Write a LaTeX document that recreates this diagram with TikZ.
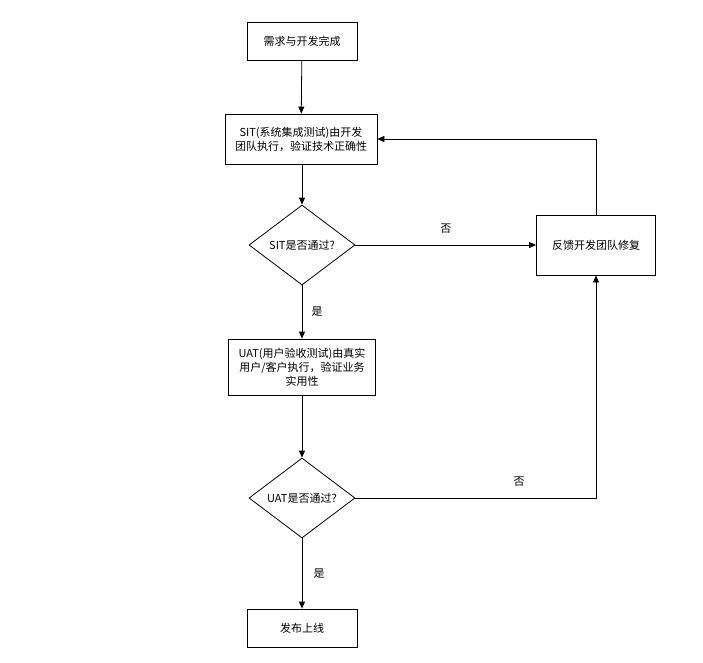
\documentclass[tikz,border=0pt]{standalone}
\usepackage{fontspec}
\newfontfamily\cjk{Noto Sans CJK SC}
\usetikzlibrary{shapes.geometric, positioning, arrows.meta}

\begin{document}
\begin{tikzpicture}[x=1pt, y=-1pt,
    box/.style={draw, thick, fill=white, align=center, font=\cjk\fontsize{11}{14}\selectfont, inner sep=2pt},
    check/.style={draw, thick, diamond, aspect=1.3, inner sep=0pt, minimum width=106pt, minimum height=80pt, font=\cjk\fontsize{11}{14}\selectfont},
    lbl/.style={font=\cjk\fontsize{11}{14}\selectfont},
    flow/.style={-{Triangle[length=7pt, width=6pt]}, thick}]
    \useasboundingbox (0,0) rectangle (703,662);
    % Flow nodes
    \node[box, minimum width=110pt, minimum height=38pt] (start) at (302,41) {需求与开发完成};
    \node[box, minimum width=152pt, minimum height=50pt] (sit) at (301,139) {SIT(系统集成测试)由开发\\团队执行，验证技术正确性};
    \node[check] (sitok) at (302,245) {SIT是否通过?};
    \node[box, minimum width=119pt, minimum height=60pt] (fix) at (596,245) {反馈开发团队修复};
    \node[box, minimum width=147pt, minimum height=56pt] (uat) at (302,367) {UAT(用户验收测试)由真实\\用户/客户执行，验证业务\\实用性};
    \node[check] (uatok) at (302,498) {UAT是否通过?};
    \node[box, minimum width=110pt, minimum height=38pt] (release) at (302,628) {发布上线};
    % Connectors
    \draw[flow] (start) -- (sit);
    \draw[flow] (sit.south -| sitok) -- (sitok);
    \draw[flow] (sitok) -- node[lbl, right=6pt] {是} (uat.north -| sitok);
    \draw[flow] (sitok) -- node[lbl, above=8pt] {否} (fix);
    \draw[flow] (fix) |- (sit);
    \draw[flow] (uat.south -| uatok) -- (uatok);
    \draw[flow] (uatok) -- node[lbl, right=8pt] {是} (release);
    \draw[flow] (uatok) -| node[lbl, above=8pt, pos=0.34] {否} (fix);
\end{tikzpicture}
\end{document}
